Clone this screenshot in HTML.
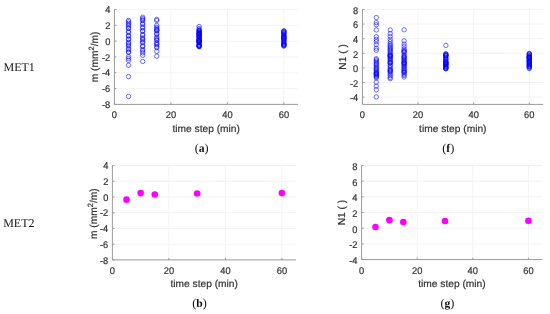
<!DOCTYPE html>
<html><head><meta charset="utf-8"><title>figure</title>
<style>
html,body{margin:0;padding:0;background:#fff;}
body{width:550px;height:314px;overflow:hidden;}
svg{display:block;}
text{text-rendering:geometricPrecision;}
.t{font-family:"Liberation Sans",Arial,sans-serif;font-size:9.7px;fill:#333333;stroke:#333;stroke-width:0.2px;}
.l{font-family:"Liberation Sans",Arial,sans-serif;font-size:10.2px;fill:#333333;stroke:#333;stroke-width:0.2px;}
.c{font-family:"Liberation Serif","Times New Roman",serif;font-size:12.2px;fill:#111;}
.m{font-family:"Liberation Serif","Times New Roman",serif;font-size:12px;fill:#111;}
</style></head><body>
<svg width="550" height="314" viewBox="0 0 550 314">
<rect width="550" height="314" fill="#fff"/>
<g stroke="#f3f3f3" stroke-width="1" fill="none"><line x1="114.4" y1="88.58" x2="298" y2="88.58"/><line x1="114.4" y1="72.77" x2="298" y2="72.77"/><line x1="114.4" y1="56.95" x2="298" y2="56.95"/><line x1="114.4" y1="41.13" x2="298" y2="41.13"/><line x1="114.4" y1="25.32" x2="298" y2="25.32"/><line x1="114.4" y1="9.5" x2="298" y2="9.5"/><line x1="170.89" y1="9.5" x2="170.89" y2="104.4"/><line x1="227.38" y1="9.5" x2="227.38" y2="104.4"/><line x1="283.88" y1="9.5" x2="283.88" y2="104.4"/></g>
<g stroke="#0000ff" stroke-opacity="0.66" stroke-width="0.85" fill="none"><circle cx="128.52" cy="20.41" r="2.2"/><circle cx="128.52" cy="21.76" r="2.2"/><circle cx="128.52" cy="23.34" r="2.2"/><circle cx="128.52" cy="24.68" r="2.2"/><circle cx="128.52" cy="26.04" r="2.2"/><circle cx="128.52" cy="27.9" r="2.2"/><circle cx="128.52" cy="28.56" r="2.2"/><circle cx="128.52" cy="31.37" r="2.2"/><circle cx="128.52" cy="32.43" r="2.2"/><circle cx="128.52" cy="35.51" r="2.2"/><circle cx="128.52" cy="36.14" r="2.2"/><circle cx="128.52" cy="38.79" r="2.2"/><circle cx="128.52" cy="39.59" r="2.2"/><circle cx="128.52" cy="42.29" r="2.2"/><circle cx="128.52" cy="43.55" r="2.2"/><circle cx="128.52" cy="45.01" r="2.2"/><circle cx="128.52" cy="46.12" r="2.2"/><circle cx="128.52" cy="48.57" r="2.2"/><circle cx="128.52" cy="49.63" r="2.2"/><circle cx="128.52" cy="51.78" r="2.2"/><circle cx="128.52" cy="52.42" r="2.2"/><circle cx="128.52" cy="56.63" r="2.2"/><circle cx="128.52" cy="58.53" r="2.2"/><circle cx="128.52" cy="60.43" r="2.2"/><circle cx="128.52" cy="65.25" r="2.2"/><circle cx="128.52" cy="76.56" r="2.2"/><circle cx="128.52" cy="96.49" r="2.2"/><circle cx="142.65" cy="17.17" r="2.2"/><circle cx="142.65" cy="18.59" r="2.2"/><circle cx="142.65" cy="19.78" r="2.2"/><circle cx="142.65" cy="20.72" r="2.2"/><circle cx="142.65" cy="23.26" r="2.2"/><circle cx="142.65" cy="24.31" r="2.2"/><circle cx="142.65" cy="26.99" r="2.2"/><circle cx="142.65" cy="28.06" r="2.2"/><circle cx="142.65" cy="30.64" r="2.2"/><circle cx="142.65" cy="31.32" r="2.2"/><circle cx="142.65" cy="34.43" r="2.2"/><circle cx="142.65" cy="35.53" r="2.2"/><circle cx="142.65" cy="37.83" r="2.2"/><circle cx="142.65" cy="39.05" r="2.2"/><circle cx="142.65" cy="40.02" r="2.2"/><circle cx="142.65" cy="41.99" r="2.2"/><circle cx="142.65" cy="42.83" r="2.2"/><circle cx="142.65" cy="45.93" r="2.2"/><circle cx="142.65" cy="46.59" r="2.2"/><circle cx="142.65" cy="49.52" r="2.2"/><circle cx="142.65" cy="50.94" r="2.2"/><circle cx="142.65" cy="52.84" r="2.2"/><circle cx="142.65" cy="55.21" r="2.2"/><circle cx="142.65" cy="61.46" r="2.2"/><circle cx="156.77" cy="19.39" r="2.2"/><circle cx="156.77" cy="20.57" r="2.2"/><circle cx="156.77" cy="25.4" r="2.2"/><circle cx="156.77" cy="27.29" r="2.2"/><circle cx="156.77" cy="28.6" r="2.2"/><circle cx="156.77" cy="29.78" r="2.2"/><circle cx="156.77" cy="30.32" r="2.2"/><circle cx="156.77" cy="31.01" r="2.2"/><circle cx="156.77" cy="33.57" r="2.2"/><circle cx="156.77" cy="34.29" r="2.2"/><circle cx="156.77" cy="36.95" r="2.2"/><circle cx="156.77" cy="38.33" r="2.2"/><circle cx="156.77" cy="39.6" r="2.2"/><circle cx="156.77" cy="40.47" r="2.2"/><circle cx="156.77" cy="42.73" r="2.2"/><circle cx="156.77" cy="43.8" r="2.2"/><circle cx="156.77" cy="44.76" r="2.2"/><circle cx="156.77" cy="46.75" r="2.2"/><circle cx="156.77" cy="47.73" r="2.2"/><circle cx="156.77" cy="51.41" r="2.2"/><circle cx="156.77" cy="56.16" r="2.2"/><circle cx="199.14" cy="26.5" r="2.2"/><circle cx="199.14" cy="28.48" r="2.2"/><circle cx="199.14" cy="29.67" r="2.2"/><circle cx="199.14" cy="30.85" r="2.2"/><circle cx="199.14" cy="30.52" r="2.2"/><circle cx="199.14" cy="31.35" r="2.2"/><circle cx="199.14" cy="32.26" r="2.2"/><circle cx="199.14" cy="32.03" r="2.2"/><circle cx="199.14" cy="33.38" r="2.2"/><circle cx="199.14" cy="32.97" r="2.2"/><circle cx="199.14" cy="33.97" r="2.2"/><circle cx="199.14" cy="33.66" r="2.2"/><circle cx="199.14" cy="34.37" r="2.2"/><circle cx="199.14" cy="34.41" r="2.2"/><circle cx="199.14" cy="35.75" r="2.2"/><circle cx="199.14" cy="36.74" r="2.2"/><circle cx="199.14" cy="35.01" r="2.2"/><circle cx="199.14" cy="36.05" r="2.2"/><circle cx="199.14" cy="37.36" r="2.2"/><circle cx="199.14" cy="36.79" r="2.2"/><circle cx="199.14" cy="37.95" r="2.2"/><circle cx="199.14" cy="38.86" r="2.2"/><circle cx="199.14" cy="40.23" r="2.2"/><circle cx="199.14" cy="40.95" r="2.2"/><circle cx="199.14" cy="39.48" r="2.2"/><circle cx="199.14" cy="40.61" r="2.2"/><circle cx="199.14" cy="39.8" r="2.2"/><circle cx="199.14" cy="40.62" r="2.2"/><circle cx="199.14" cy="40.11" r="2.2"/><circle cx="199.14" cy="41.14" r="2.2"/><circle cx="199.14" cy="42.23" r="2.2"/><circle cx="199.14" cy="40.99" r="2.2"/><circle cx="199.14" cy="42.14" r="2.2"/><circle cx="199.14" cy="42.22" r="2.2"/><circle cx="199.14" cy="43.18" r="2.2"/><circle cx="199.14" cy="44.09" r="2.2"/><circle cx="199.14" cy="45.01" r="2.2"/><circle cx="199.14" cy="45.92" r="2.2"/><circle cx="199.14" cy="45.25" r="2.2"/><circle cx="199.14" cy="45.9" r="2.2"/><circle cx="199.14" cy="46.56" r="2.2"/><circle cx="199.14" cy="45.93" r="2.2"/><circle cx="199.14" cy="46.62" r="2.2"/><circle cx="283.88" cy="30.77" r="2.2"/><circle cx="283.88" cy="31.37" r="2.2"/><circle cx="283.88" cy="31.25" r="2.2"/><circle cx="283.88" cy="32.61" r="2.2"/><circle cx="283.88" cy="32.55" r="2.2"/><circle cx="283.88" cy="33.85" r="2.2"/><circle cx="283.88" cy="33.86" r="2.2"/><circle cx="283.88" cy="34.97" r="2.2"/><circle cx="283.88" cy="35.78" r="2.2"/><circle cx="283.88" cy="36.76" r="2.2"/><circle cx="283.88" cy="36.19" r="2.2"/><circle cx="283.88" cy="37.58" r="2.2"/><circle cx="283.88" cy="38.56" r="2.2"/><circle cx="283.88" cy="37.26" r="2.2"/><circle cx="283.88" cy="37.98" r="2.2"/><circle cx="283.88" cy="38.81" r="2.2"/><circle cx="283.88" cy="39.8" r="2.2"/><circle cx="283.88" cy="40.26" r="2.2"/><circle cx="283.88" cy="41.02" r="2.2"/><circle cx="283.88" cy="42.17" r="2.2"/><circle cx="283.88" cy="42.89" r="2.2"/><circle cx="283.88" cy="43.35" r="2.2"/><circle cx="283.88" cy="44.56" r="2.2"/><circle cx="283.88" cy="44.09" r="2.2"/><circle cx="283.88" cy="45.25" r="2.2"/><circle cx="283.88" cy="44.76" r="2.2"/><circle cx="283.88" cy="46.09" r="2.2"/><circle cx="283.88" cy="45.6" r="2.2"/></g>
<g stroke="#9a9a9a" stroke-width="1" fill="none"><line x1="114.4" y1="9.5" x2="114.4" y2="104.4"/><line x1="114.4" y1="104.4" x2="298" y2="104.4"/><line x1="114.4" y1="104.4" x2="116.4" y2="104.4"/><line x1="114.4" y1="88.58" x2="116.4" y2="88.58"/><line x1="114.4" y1="72.77" x2="116.4" y2="72.77"/><line x1="114.4" y1="56.95" x2="116.4" y2="56.95"/><line x1="114.4" y1="41.13" x2="116.4" y2="41.13"/><line x1="114.4" y1="25.32" x2="116.4" y2="25.32"/><line x1="114.4" y1="9.5" x2="116.4" y2="9.5"/><line x1="114.4" y1="104.4" x2="114.4" y2="102.4"/><line x1="170.89" y1="104.4" x2="170.89" y2="102.4"/><line x1="227.38" y1="104.4" x2="227.38" y2="102.4"/><line x1="283.88" y1="104.4" x2="283.88" y2="102.4"/></g>
<g class="t"><text transform="translate(110.3,108) scale(0.96,1)" text-anchor="end">-8</text><text transform="translate(110.3,92.18) scale(0.96,1)" text-anchor="end">-6</text><text transform="translate(110.3,76.37) scale(0.96,1)" text-anchor="end">-4</text><text transform="translate(110.3,60.55) scale(0.96,1)" text-anchor="end">-2</text><text transform="translate(110.3,44.73) scale(0.96,1)" text-anchor="end">0</text><text transform="translate(110.3,28.92) scale(0.96,1)" text-anchor="end">2</text><text transform="translate(110.3,13.1) scale(0.96,1)" text-anchor="end">4</text><text transform="translate(114.4,118.4) scale(0.96,1)" text-anchor="middle">0</text><text transform="translate(170.89,118.4) scale(0.96,1)" text-anchor="middle">20</text><text transform="translate(227.38,118.4) scale(0.96,1)" text-anchor="middle">40</text><text transform="translate(283.88,118.4) scale(0.96,1)" text-anchor="middle">60</text></g>
<text class="l" x="206.2" y="131.5" text-anchor="middle">time step (min)</text>
<text class="l" transform="translate(97.9,56.95) rotate(-90)" text-anchor="middle">m (mm<tspan dy="-4" font-size="7.6">2</tspan><tspan dy="4">/m)</tspan></text>
<text class="c" x="201.6" y="151.9" text-anchor="middle">(<tspan font-weight="bold" font-size="11.6px">a</tspan>)</text>
<g stroke="#f3f3f3" stroke-width="1" fill="none"><line x1="362.4" y1="97.1" x2="543.2" y2="97.1"/><line x1="362.4" y1="82.5" x2="543.2" y2="82.5"/><line x1="362.4" y1="67.9" x2="543.2" y2="67.9"/><line x1="362.4" y1="53.3" x2="543.2" y2="53.3"/><line x1="362.4" y1="38.7" x2="543.2" y2="38.7"/><line x1="362.4" y1="24.1" x2="543.2" y2="24.1"/><line x1="362.4" y1="9.5" x2="543.2" y2="9.5"/><line x1="418.03" y1="9.5" x2="418.03" y2="104.4"/><line x1="473.66" y1="9.5" x2="473.66" y2="104.4"/><line x1="529.29" y1="9.5" x2="529.29" y2="104.4"/></g>
<g stroke="#0000ff" stroke-opacity="0.66" stroke-width="0.85" fill="none"><circle cx="376.31" cy="17.53" r="2.2"/><circle cx="376.31" cy="22.64" r="2.2"/><circle cx="376.31" cy="24.83" r="2.2"/><circle cx="376.31" cy="29.94" r="2.2"/><circle cx="376.31" cy="36.8" r="2.2"/><circle cx="376.31" cy="39.43" r="2.2"/><circle cx="376.31" cy="41.62" r="2.2"/><circle cx="376.31" cy="44.54" r="2.2"/><circle cx="376.31" cy="48.19" r="2.2"/><circle cx="376.31" cy="50.23" r="2.2"/><circle cx="376.31" cy="58.7" r="2.2"/><circle cx="376.31" cy="59.81" r="2.2"/><circle cx="376.31" cy="61.01" r="2.2"/><circle cx="376.31" cy="62.25" r="2.2"/><circle cx="376.31" cy="63.68" r="2.2"/><circle cx="376.31" cy="64.44" r="2.2"/><circle cx="376.31" cy="65.77" r="2.2"/><circle cx="376.31" cy="67.16" r="2.2"/><circle cx="376.31" cy="68.39" r="2.2"/><circle cx="376.31" cy="69.2" r="2.2"/><circle cx="376.31" cy="70.35" r="2.2"/><circle cx="376.31" cy="71.31" r="2.2"/><circle cx="376.31" cy="72.56" r="2.2"/><circle cx="376.31" cy="73.74" r="2.2"/><circle cx="376.31" cy="73.14" r="2.2"/><circle cx="376.31" cy="73.8" r="2.2"/><circle cx="376.31" cy="74.52" r="2.2"/><circle cx="376.31" cy="75.28" r="2.2"/><circle cx="376.31" cy="76.04" r="2.2"/><circle cx="376.31" cy="76.85" r="2.2"/><circle cx="376.31" cy="77.83" r="2.2"/><circle cx="376.31" cy="82.21" r="2.2"/><circle cx="376.31" cy="86.08" r="2.2"/><circle cx="376.31" cy="89.8" r="2.2"/><circle cx="376.31" cy="96.95" r="2.2"/><circle cx="390.22" cy="29.94" r="2.2"/><circle cx="390.22" cy="33.59" r="2.2"/><circle cx="390.22" cy="36.51" r="2.2"/><circle cx="390.22" cy="39.43" r="2.2"/><circle cx="390.22" cy="41.62" r="2.2"/><circle cx="390.22" cy="43.81" r="2.2"/><circle cx="390.22" cy="45.08" r="2.2"/><circle cx="390.22" cy="46.53" r="2.2"/><circle cx="390.22" cy="47.75" r="2.2"/><circle cx="390.22" cy="48.95" r="2.2"/><circle cx="390.22" cy="49.89" r="2.2"/><circle cx="390.22" cy="51.11" r="2.2"/><circle cx="390.22" cy="52.35" r="2.2"/><circle cx="390.22" cy="53.96" r="2.2"/><circle cx="390.22" cy="54.93" r="2.2"/><circle cx="390.22" cy="56.12" r="2.2"/><circle cx="390.22" cy="55.21" r="2.2"/><circle cx="390.22" cy="55.95" r="2.2"/><circle cx="390.22" cy="56.54" r="2.2"/><circle cx="390.22" cy="57.61" r="2.2"/><circle cx="390.22" cy="58.48" r="2.2"/><circle cx="390.22" cy="59.57" r="2.2"/><circle cx="390.22" cy="60.65" r="2.2"/><circle cx="390.22" cy="61.78" r="2.2"/><circle cx="390.22" cy="62.66" r="2.2"/><circle cx="390.22" cy="62.74" r="2.2"/><circle cx="390.22" cy="63.36" r="2.2"/><circle cx="390.22" cy="65.28" r="2.2"/><circle cx="390.22" cy="66.3" r="2.2"/><circle cx="390.22" cy="68.06" r="2.2"/><circle cx="390.22" cy="69.45" r="2.2"/><circle cx="390.22" cy="70.2" r="2.2"/><circle cx="390.22" cy="70.73" r="2.2"/><circle cx="390.22" cy="71.53" r="2.2"/><circle cx="390.22" cy="72.43" r="2.2"/><circle cx="390.22" cy="74.08" r="2.2"/><circle cx="390.22" cy="75.71" r="2.2"/><circle cx="390.22" cy="77.45" r="2.2"/><circle cx="390.22" cy="78.7" r="2.2"/><circle cx="404.12" cy="29.79" r="2.2"/><circle cx="404.12" cy="40.89" r="2.2"/><circle cx="404.12" cy="44.1" r="2.2"/><circle cx="404.12" cy="46.37" r="2.2"/><circle cx="404.12" cy="48.92" r="2.2"/><circle cx="404.12" cy="50.18" r="2.2"/><circle cx="404.12" cy="51.48" r="2.2"/><circle cx="404.12" cy="51.66" r="2.2"/><circle cx="404.12" cy="52.67" r="2.2"/><circle cx="404.12" cy="54.76" r="2.2"/><circle cx="404.12" cy="55.98" r="2.2"/><circle cx="404.12" cy="57.07" r="2.2"/><circle cx="404.12" cy="57.26" r="2.2"/><circle cx="404.12" cy="57.99" r="2.2"/><circle cx="404.12" cy="59.21" r="2.2"/><circle cx="404.12" cy="60.25" r="2.2"/><circle cx="404.12" cy="60.9" r="2.2"/><circle cx="404.12" cy="62.12" r="2.2"/><circle cx="404.12" cy="62.81" r="2.2"/><circle cx="404.12" cy="63" r="2.2"/><circle cx="404.12" cy="63.76" r="2.2"/><circle cx="404.12" cy="64.18" r="2.2"/><circle cx="404.12" cy="65.19" r="2.2"/><circle cx="404.12" cy="66.29" r="2.2"/><circle cx="404.12" cy="67.25" r="2.2"/><circle cx="404.12" cy="68.49" r="2.2"/><circle cx="404.12" cy="69.65" r="2.2"/><circle cx="404.12" cy="70.41" r="2.2"/><circle cx="404.12" cy="71.41" r="2.2"/><circle cx="404.12" cy="72.21" r="2.2"/><circle cx="404.12" cy="72.45" r="2.2"/><circle cx="404.12" cy="74.25" r="2.2"/><circle cx="404.12" cy="75.56" r="2.2"/><circle cx="404.12" cy="77.03" r="2.2"/><circle cx="445.85" cy="45.42" r="2.2"/><circle cx="445.85" cy="53.66" r="2.2"/><circle cx="445.85" cy="54.94" r="2.2"/><circle cx="445.85" cy="54.21" r="2.2"/><circle cx="445.85" cy="55.13" r="2.2"/><circle cx="445.85" cy="55.08" r="2.2"/><circle cx="445.85" cy="56.02" r="2.2"/><circle cx="445.85" cy="55.76" r="2.2"/><circle cx="445.85" cy="56.99" r="2.2"/><circle cx="445.85" cy="57.68" r="2.2"/><circle cx="445.85" cy="59.03" r="2.2"/><circle cx="445.85" cy="59.14" r="2.2"/><circle cx="445.85" cy="59.85" r="2.2"/><circle cx="445.85" cy="61.03" r="2.2"/><circle cx="445.85" cy="61.8" r="2.2"/><circle cx="445.85" cy="63.16" r="2.2"/><circle cx="445.85" cy="62.04" r="2.2"/><circle cx="445.85" cy="62.77" r="2.2"/><circle cx="445.85" cy="63.91" r="2.2"/><circle cx="445.85" cy="62.74" r="2.2"/><circle cx="445.85" cy="64.14" r="2.2"/><circle cx="445.85" cy="65.06" r="2.2"/><circle cx="445.85" cy="63.8" r="2.2"/><circle cx="445.85" cy="64.66" r="2.2"/><circle cx="445.85" cy="65.4" r="2.2"/><circle cx="445.85" cy="66.27" r="2.2"/><circle cx="445.85" cy="66.53" r="2.2"/><circle cx="445.85" cy="67.44" r="2.2"/><circle cx="445.85" cy="67.76" r="2.2"/><circle cx="445.85" cy="68.77" r="2.2"/><circle cx="445.85" cy="68.18" r="2.2"/><circle cx="445.85" cy="68.66" r="2.2"/><circle cx="529.29" cy="53.45" r="2.2"/><circle cx="529.29" cy="54.26" r="2.2"/><circle cx="529.29" cy="53.88" r="2.2"/><circle cx="529.29" cy="55.16" r="2.2"/><circle cx="529.29" cy="56.3" r="2.2"/><circle cx="529.29" cy="55.78" r="2.2"/><circle cx="529.29" cy="56.5" r="2.2"/><circle cx="529.29" cy="57.84" r="2.2"/><circle cx="529.29" cy="57.01" r="2.2"/><circle cx="529.29" cy="57.68" r="2.2"/><circle cx="529.29" cy="57.31" r="2.2"/><circle cx="529.29" cy="58.25" r="2.2"/><circle cx="529.29" cy="57.64" r="2.2"/><circle cx="529.29" cy="58.75" r="2.2"/><circle cx="529.29" cy="59.29" r="2.2"/><circle cx="529.29" cy="60.37" r="2.2"/><circle cx="529.29" cy="59.89" r="2.2"/><circle cx="529.29" cy="61.18" r="2.2"/><circle cx="529.29" cy="60.9" r="2.2"/><circle cx="529.29" cy="62.3" r="2.2"/><circle cx="529.29" cy="61.85" r="2.2"/><circle cx="529.29" cy="62.95" r="2.2"/><circle cx="529.29" cy="62.13" r="2.2"/><circle cx="529.29" cy="63.48" r="2.2"/><circle cx="529.29" cy="64.08" r="2.2"/><circle cx="529.29" cy="64.72" r="2.2"/><circle cx="529.29" cy="64.64" r="2.2"/><circle cx="529.29" cy="65.74" r="2.2"/><circle cx="529.29" cy="65.8" r="2.2"/><circle cx="529.29" cy="66.63" r="2.2"/><circle cx="529.29" cy="66.9" r="2.2"/><circle cx="529.29" cy="67.71" r="2.2"/><circle cx="529.29" cy="68.54" r="2.2"/></g>
<g stroke="#9a9a9a" stroke-width="1" fill="none"><line x1="362.4" y1="9.5" x2="362.4" y2="104.4"/><line x1="362.4" y1="104.4" x2="543.2" y2="104.4"/><line x1="362.4" y1="97.1" x2="364.4" y2="97.1"/><line x1="362.4" y1="82.5" x2="364.4" y2="82.5"/><line x1="362.4" y1="67.9" x2="364.4" y2="67.9"/><line x1="362.4" y1="53.3" x2="364.4" y2="53.3"/><line x1="362.4" y1="38.7" x2="364.4" y2="38.7"/><line x1="362.4" y1="24.1" x2="364.4" y2="24.1"/><line x1="362.4" y1="9.5" x2="364.4" y2="9.5"/><line x1="362.4" y1="104.4" x2="362.4" y2="102.4"/><line x1="418.03" y1="104.4" x2="418.03" y2="102.4"/><line x1="473.66" y1="104.4" x2="473.66" y2="102.4"/><line x1="529.29" y1="104.4" x2="529.29" y2="102.4"/></g>
<g class="t"><text transform="translate(358.3,101.4) scale(0.96,1)" text-anchor="end">-4</text><text transform="translate(358.3,86.8) scale(0.96,1)" text-anchor="end">-2</text><text transform="translate(358.3,72.2) scale(0.96,1)" text-anchor="end">0</text><text transform="translate(358.3,57.6) scale(0.96,1)" text-anchor="end">2</text><text transform="translate(358.3,43) scale(0.96,1)" text-anchor="end">4</text><text transform="translate(358.3,28.4) scale(0.96,1)" text-anchor="end">6</text><text transform="translate(358.3,13.8) scale(0.96,1)" text-anchor="end">8</text><text transform="translate(362.4,118.4) scale(0.96,1)" text-anchor="middle">0</text><text transform="translate(418.03,118.4) scale(0.96,1)" text-anchor="middle">20</text><text transform="translate(473.66,118.4) scale(0.96,1)" text-anchor="middle">40</text><text transform="translate(529.29,118.4) scale(0.96,1)" text-anchor="middle">60</text></g>
<text class="l" x="452.8" y="131.5" text-anchor="middle">time step (min)</text>
<text class="l" transform="translate(345.9,56.95) rotate(-90)" text-anchor="middle">N1 ( )</text>
<text class="c" x="448.2" y="151.9" text-anchor="middle">(<tspan font-weight="bold" font-size="11.6px">f</tspan>)</text>
<g stroke="#f3f3f3" stroke-width="1" fill="none"><line x1="112.4" y1="244.17" x2="296" y2="244.17"/><line x1="112.4" y1="228.43" x2="296" y2="228.43"/><line x1="112.4" y1="212.7" x2="296" y2="212.7"/><line x1="112.4" y1="196.97" x2="296" y2="196.97"/><line x1="112.4" y1="181.23" x2="296" y2="181.23"/><line x1="112.4" y1="165.5" x2="296" y2="165.5"/><line x1="168.89" y1="165.5" x2="168.89" y2="259.9"/><line x1="225.38" y1="165.5" x2="225.38" y2="259.9"/><line x1="281.88" y1="165.5" x2="281.88" y2="259.9"/></g>
<g fill="#ff00ff"><circle cx="126.52" cy="199.64" r="3.3"/><circle cx="140.65" cy="193.11" r="3.3"/><circle cx="154.77" cy="194.53" r="3.3"/><circle cx="197.14" cy="193.51" r="3.3"/><circle cx="281.88" cy="193.11" r="3.3"/></g>
<g stroke="#9a9a9a" stroke-width="1" fill="none"><line x1="112.4" y1="165.5" x2="112.4" y2="259.9"/><line x1="112.4" y1="259.9" x2="296" y2="259.9"/><line x1="112.4" y1="259.9" x2="114.4" y2="259.9"/><line x1="112.4" y1="244.17" x2="114.4" y2="244.17"/><line x1="112.4" y1="228.43" x2="114.4" y2="228.43"/><line x1="112.4" y1="212.7" x2="114.4" y2="212.7"/><line x1="112.4" y1="196.97" x2="114.4" y2="196.97"/><line x1="112.4" y1="181.23" x2="114.4" y2="181.23"/><line x1="112.4" y1="165.5" x2="114.4" y2="165.5"/><line x1="112.4" y1="259.9" x2="112.4" y2="257.9"/><line x1="168.89" y1="259.9" x2="168.89" y2="257.9"/><line x1="225.38" y1="259.9" x2="225.38" y2="257.9"/><line x1="281.88" y1="259.9" x2="281.88" y2="257.9"/></g>
<g class="t"><text transform="translate(108.3,263.5) scale(0.96,1)" text-anchor="end">-8</text><text transform="translate(108.3,247.77) scale(0.96,1)" text-anchor="end">-6</text><text transform="translate(108.3,232.03) scale(0.96,1)" text-anchor="end">-4</text><text transform="translate(108.3,216.3) scale(0.96,1)" text-anchor="end">-2</text><text transform="translate(108.3,200.57) scale(0.96,1)" text-anchor="end">0</text><text transform="translate(108.3,184.83) scale(0.96,1)" text-anchor="end">2</text><text transform="translate(108.3,169.1) scale(0.96,1)" text-anchor="end">4</text><text transform="translate(112.4,273.9) scale(0.96,1)" text-anchor="middle">0</text><text transform="translate(168.89,273.9) scale(0.96,1)" text-anchor="middle">20</text><text transform="translate(225.38,273.9) scale(0.96,1)" text-anchor="middle">40</text><text transform="translate(281.88,273.9) scale(0.96,1)" text-anchor="middle">60</text></g>
<text class="l" x="204.2" y="287" text-anchor="middle">time step (min)</text>
<text class="l" transform="translate(96.9,213.7) rotate(-90)" text-anchor="middle">m (mm<tspan dy="-4" font-size="7.6">2</tspan><tspan dy="4">/m)</tspan></text>
<text class="c" x="199.6" y="307.4" text-anchor="middle">(<tspan font-weight="bold" font-size="11.6px">b</tspan>)</text>
<g stroke="#f3f3f3" stroke-width="1" fill="none"><line x1="361.6" y1="243.92" x2="542.3" y2="243.92"/><line x1="361.6" y1="228.23" x2="542.3" y2="228.23"/><line x1="361.6" y1="212.55" x2="542.3" y2="212.55"/><line x1="361.6" y1="196.87" x2="542.3" y2="196.87"/><line x1="361.6" y1="181.18" x2="542.3" y2="181.18"/><line x1="361.6" y1="165.5" x2="542.3" y2="165.5"/><line x1="417.2" y1="165.5" x2="417.2" y2="259.6"/><line x1="472.8" y1="165.5" x2="472.8" y2="259.6"/><line x1="528.4" y1="165.5" x2="528.4" y2="259.6"/></g>
<g fill="#ff00ff"><circle cx="375.5" cy="227.06" r="3.3"/><circle cx="389.4" cy="220.16" r="3.3"/><circle cx="403.3" cy="221.96" r="3.3"/><circle cx="445" cy="221.02" r="3.3"/><circle cx="528.4" cy="220.86" r="3.3"/></g>
<g stroke="#9a9a9a" stroke-width="1" fill="none"><line x1="361.6" y1="165.5" x2="361.6" y2="259.6"/><line x1="361.6" y1="259.6" x2="542.3" y2="259.6"/><line x1="361.6" y1="259.6" x2="363.6" y2="259.6"/><line x1="361.6" y1="243.92" x2="363.6" y2="243.92"/><line x1="361.6" y1="228.23" x2="363.6" y2="228.23"/><line x1="361.6" y1="212.55" x2="363.6" y2="212.55"/><line x1="361.6" y1="196.87" x2="363.6" y2="196.87"/><line x1="361.6" y1="181.18" x2="363.6" y2="181.18"/><line x1="361.6" y1="165.5" x2="363.6" y2="165.5"/><line x1="361.6" y1="259.6" x2="361.6" y2="257.6"/><line x1="417.2" y1="259.6" x2="417.2" y2="257.6"/><line x1="472.8" y1="259.6" x2="472.8" y2="257.6"/><line x1="528.4" y1="259.6" x2="528.4" y2="257.6"/></g>
<g class="t"><text transform="translate(357.5,264.1) scale(0.96,1)" text-anchor="end">-4</text><text transform="translate(357.5,248.42) scale(0.96,1)" text-anchor="end">-2</text><text transform="translate(357.5,232.73) scale(0.96,1)" text-anchor="end">0</text><text transform="translate(357.5,217.05) scale(0.96,1)" text-anchor="end">2</text><text transform="translate(357.5,201.37) scale(0.96,1)" text-anchor="end">4</text><text transform="translate(357.5,185.68) scale(0.96,1)" text-anchor="end">6</text><text transform="translate(357.5,170) scale(0.96,1)" text-anchor="end">8</text><text transform="translate(361.6,273.6) scale(0.96,1)" text-anchor="middle">0</text><text transform="translate(417.2,273.6) scale(0.96,1)" text-anchor="middle">20</text><text transform="translate(472.8,273.6) scale(0.96,1)" text-anchor="middle">40</text><text transform="translate(528.4,273.6) scale(0.96,1)" text-anchor="middle">60</text></g>
<text class="l" x="451.95" y="286.7" text-anchor="middle">time step (min)</text>
<text class="l" transform="translate(345.1,212.55) rotate(-90)" text-anchor="middle">N1 ( )</text>
<text class="c" x="447.35" y="307.1" text-anchor="middle">(<tspan font-weight="bold" font-size="11.6px">g</tspan>)</text>
<text class="m" x="3.5" y="71">MET1</text>
<text class="m" x="3.2" y="226.8">MET2</text>
</svg>
</body></html>
